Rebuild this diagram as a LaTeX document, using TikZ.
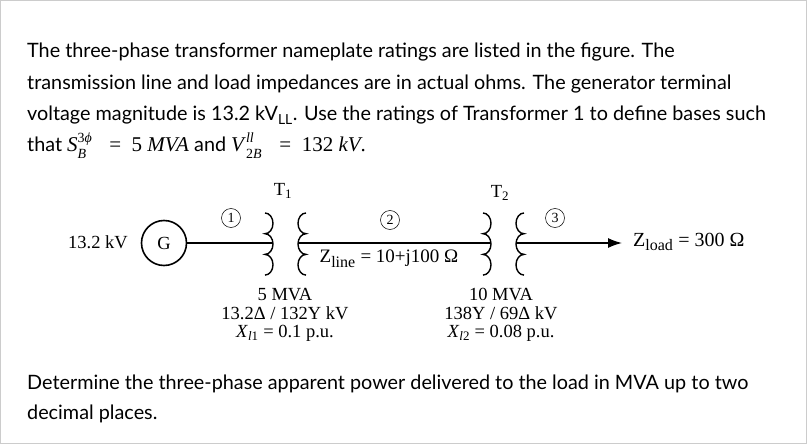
\documentclass[tikz,border=0pt]{standalone}
\usepackage{fontspec}
\usetikzlibrary{arrows.meta}
\setmainfont{Lato}
\newfontfamily\tms{Liberation Serif}
\newcommand\coilrt{arc[start angle=-90,end angle=90,x radius=8,y radius=10.35] arc[start angle=-90,end angle=90,x radius=8,y radius=10.35] arc[start angle=-90,end angle=90,x radius=8,y radius=10.35]}
\newcommand\coillt{arc[start angle=-90,end angle=-270,x radius=8,y radius=10.35] arc[start angle=-90,end angle=-270,x radius=8,y radius=10.35] arc[start angle=-90,end angle=-270,x radius=8,y radius=10.35]}
\newcommand\supsub[2]{\rlap{\raisebox{0.45em}{\fontsize{14}{14}\selectfont#1}}\raisebox{-0.3em}{\fontsize{14}{14}\selectfont#2}\hspace{0.6em}}
\begin{document}
\begin{tikzpicture}[x=1pt,y=-1pt,
  para/.style={anchor=base west,inner sep=0pt,font=\fontsize{19.8}{22}\selectfont},
  dia/.style={inner sep=0pt,font=\tms\fontsize{18.5}{21}\selectfont},
  bus/.style={draw,circle,inner sep=0pt,minimum size=19pt,line width=0.5pt,font=\tms\fontsize{14}{14}\selectfont},
  wire/.style={line width=1.4pt}]
\useasboundingbox (0,0) rectangle (807,444);
\draw[gray!40] (0.5,0.5) rectangle (806.5,443.5);
\node[para] (l1) at (27,58) {The three-phase transformer nameplate ratings are listed in the figure. The};
\node[para] (l2) at (27,90) {transmission line and load impedances are in actual ohms. The generator terminal};
\node[para] (l3) at (27,121) {voltage magnitude is 13.2 kV\textsubscript{LL}. Use the ratings of Transformer 1 to define bases such};
\node[para] (l4) at (27,152) {that {\tms\fontsize{21}{22}\selectfont\textit{S}\supsub{3\textit{ϕ}}{\textit{B}}\ \ = \ 5 \textit{MVA}} and {\tms\fontsize{21}{22}\selectfont\textit{V}\supsub{\textit{ll}}{2\textit{B}}\ = \ 132 \textit{kV}.}};
\node[para] (l5) at (27,389) {Determine the three-phase apparent power delivered to the load in MVA up to two};
\node[para] (l6) at (27,419) {decimal places.};
% generator
\node[draw,circle,line width=1.6pt,minimum size=45pt,inner sep=0pt,dia] (G) at (164,243) {G};
\node[dia,anchor=east] (gv) at (128,242) {13.2 kV};
% T1
\draw[wire] (265,213) \coilrt;
\draw[wire] (306,213) \coillt;
\coordinate (t1a) at (273,243);
\coordinate (t1b) at (298,243);
\node[dia] (T1) at (283,191) {T\textsubscript{1}};
% T2
\draw[wire] (483,213) \coilrt;
\draw[wire] (524,213) \coillt;
\coordinate (t2a) at (491,243);
\coordinate (t2b) at (516,243);
\node[dia] (T2) at (500,193) {T\textsubscript{2}};
% wires
\coordinate (tip) at (622,243);
\draw[wire] (G) -- (t1a);
\draw[wire] (t1b) -- (t2a);
\draw[wire,-{Latex[length=14pt,width=10pt]}] (t2b) -- (tip);
% buses
\node[bus] (b1) at (231,218) {1};
\node[bus] (b2) at (390,220) {2};
\node[bus] (b3) at (555,218) {3};
% labels
\node[dia,anchor=west,font=\tms\fontsize{20}{21}\selectfont] (zl) at (633,242) {Z\textsubscript{\fontsize{16}{16}\selectfont load} = 300 Ω};
\node[dia,font=\tms\fontsize{19}{21}\selectfont] (zline) at (389,259) {Z\textsubscript{\fontsize{16}{16}\selectfont line} = 10+j100 Ω};
\node[dia,align=center,font=\tms\fontsize{18.5}{18.5}\selectfont] (r1) at (285,315) {5 MVA\\13.2Δ / 132Y kV\\\textit{X}\textsubscript{\textit{l}1} = 0.1 p.u.};
\node[dia,align=center,font=\tms\fontsize{18.5}{18.5}\selectfont] (r2) at (501,315) {10 MVA\\138Y / 69Δ kV\\\textit{X}\textsubscript{\textit{l}2} = 0.08 p.u.};
\end{tikzpicture}
\end{document}
